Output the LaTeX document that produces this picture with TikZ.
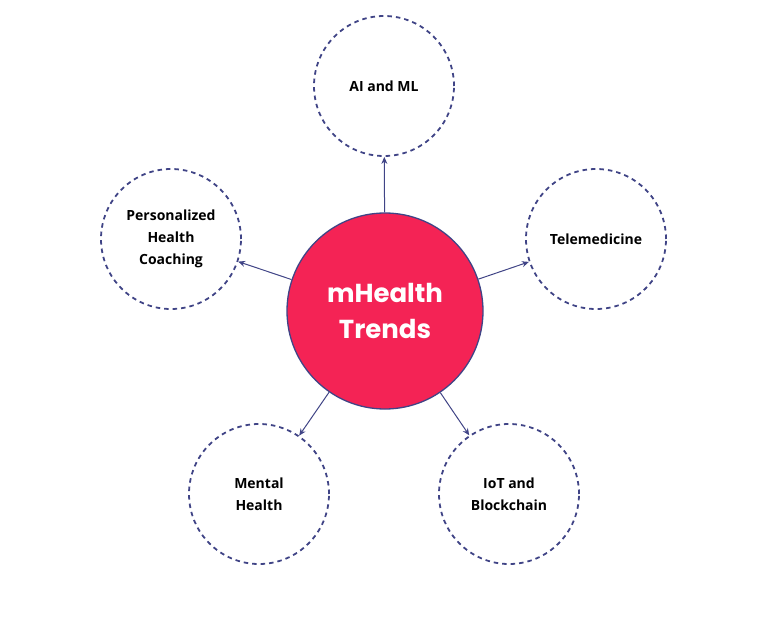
\documentclass[tikz,border=0pt]{standalone}
\usepackage{fontspec}
\setmainfont{Open Sans}
\newfontfamily\titlefont{Poppins}
\usetikzlibrary{arrows.meta}
\definecolor{trendpink}{RGB}{244, 35, 85}
\definecolor{trendblue}{RGB}{64, 68, 134}

\tikzset{
  trend/.style={circle, draw=trendblue, line width=1.8pt, dash pattern=on 4.5pt off 4pt,
    minimum size=140pt, inner sep=0pt, align=center,
    font=\fontsize{14}{22}\selectfont\bfseries},
  hub/.style={circle, fill=trendpink, draw=trendblue, line width=1.3pt,
    minimum size=196pt, inner sep=0pt, align=center, text=white,
    font=\titlefont\fontsize{26}{36}\selectfont\bfseries},
  link/.style={draw=trendblue, line width=1pt, -{Stealth[length=7pt, width=6pt]}}
}

\begin{document}
\begin{tikzpicture}[x=1pt, y=-1pt]
        \useasboundingbox (0,0) rectangle (768,624);

        % Hub
        \node[hub] (hub) at (385, 311) {mHealth\\Trends};

        % Trends around the hub
        \foreach \name/\x/\y/\text in {ai/384/86/AI and ML, tele/596/239/Telemedicine,
            coach/171/239/Personalized\\Health\\Coaching, mental/259/494/Mental\\Health,
            iot/509/494/IoT and\\Blockchain} {
            \node[trend] (\name) at (\x, \y) {\text};
            \draw[link] (hub) -- (\name);
        }
    \end{tikzpicture}
\end{document}
